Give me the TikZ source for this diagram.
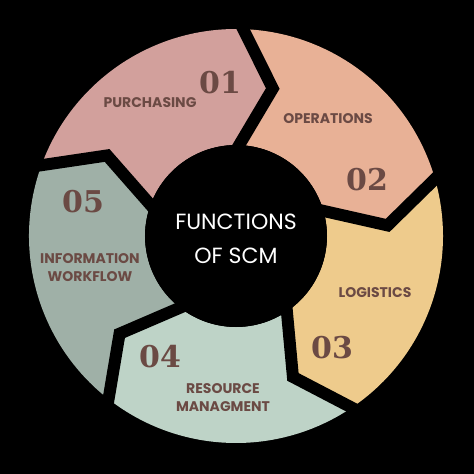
\documentclass[tikz,border=0pt]{standalone}
\usepackage{fontspec}
\setsansfont{Poppins}
\newfontfamily\numfont{DejaVu Serif}
\usetikzlibrary{calc}

\definecolor{purchcol}{HTML}{D2A09C}
\definecolor{opercol}{HTML}{E8B196}
\definecolor{logicol}{HTML}{EECB8C}
\definecolor{rescol}{HTML}{BED3C7}
\definecolor{infocol}{HTML}{9FB0A7}
\definecolor{textcol}{HTML}{6B4A44}

\tikzset{
    label text/.style={font=\sffamily\bfseries\fontsize{14}{18}\selectfont, text=textcol, align=center, inner sep=0pt},
    number text/.style={font=\numfont\bfseries\fontsize{30}{30}\selectfont, text=textcol, inner sep=0pt},
    gap line/.style={line width=12pt, black, line join=miter}
}

\begin{document}
\begin{tikzpicture}[x=1pt, y=1pt]

    % Background and page size
    \useasboundingbox (-236,-238) rectangle (238,236);
    \fill[black] (-236,-238) rectangle (238,236);

    % Radii of the ring: outer, arrow tip, inner
    \def\Rout{207}
    \def\Rmid{152}
    \def\Rin{91}

    % Draw the five arrow-shaped segments (trailing angle / colour)
    \foreach \t/\col in {160/purchcol, 88/opercol, 16/logicol, -56/rescol, -128/infocol}{
        \pgfmathsetmacro{\l}{\t-72}
        \fill[\col] (\t:\Rout) arc[start angle=\t, end angle=\l, radius=\Rout]
            -- (\l-12:\Rmid) -- (\l:\Rin)
            arc[start angle=\l, end angle=\t, radius=\Rin]
            -- (\t-12:\Rmid) -- cycle;
    }

    % Cut the black gaps between the segments
    \foreach \b in {88, 16, -56, -128, 160}{
        \coordinate (outer) at (\b:\Rout);
        \coordinate (tip) at (\b-12:\Rmid);
        \coordinate (inner) at (\b:\Rin);
        \draw[gap line] ($(outer)!-0.2!(tip)$) -- (tip) -- ($(inner)!-0.1!(tip)$);
    }

    % Centre disc
    \fill[black] (0,0) circle (\Rin);
    \node[font=\sffamily\fontsize{22}{34}\selectfont, text=white, align=center] (centre) at (0,-3) {FUNCTIONS\\OF SCM};

    % Segment labels
    \node[label text] (purchasing) at (-86,133) {PURCHASING};
    \node[label text] (operations) at (92,117) {OPERATIONS};
    \node[label text] (logistics) at (139,-57) {LOGISTICS};
    \node[label text] (resource) at (-13,-162) {RESOURCE\\MANAGMENT};
    \node[label text] (information) at (-146,-32) {INFORMATION\\WORKFLOW};

    % Step numbers
    \node[number text] (num01) at (-16,153) {01};
    \node[number text] (num02) at (131,56) {02};
    \node[number text] (num03) at (96,-112) {03};
    \node[number text] (num04) at (-76,-121) {04};
    \node[number text] (num05) at (-153,34) {05};

\end{tikzpicture}
\end{document}
